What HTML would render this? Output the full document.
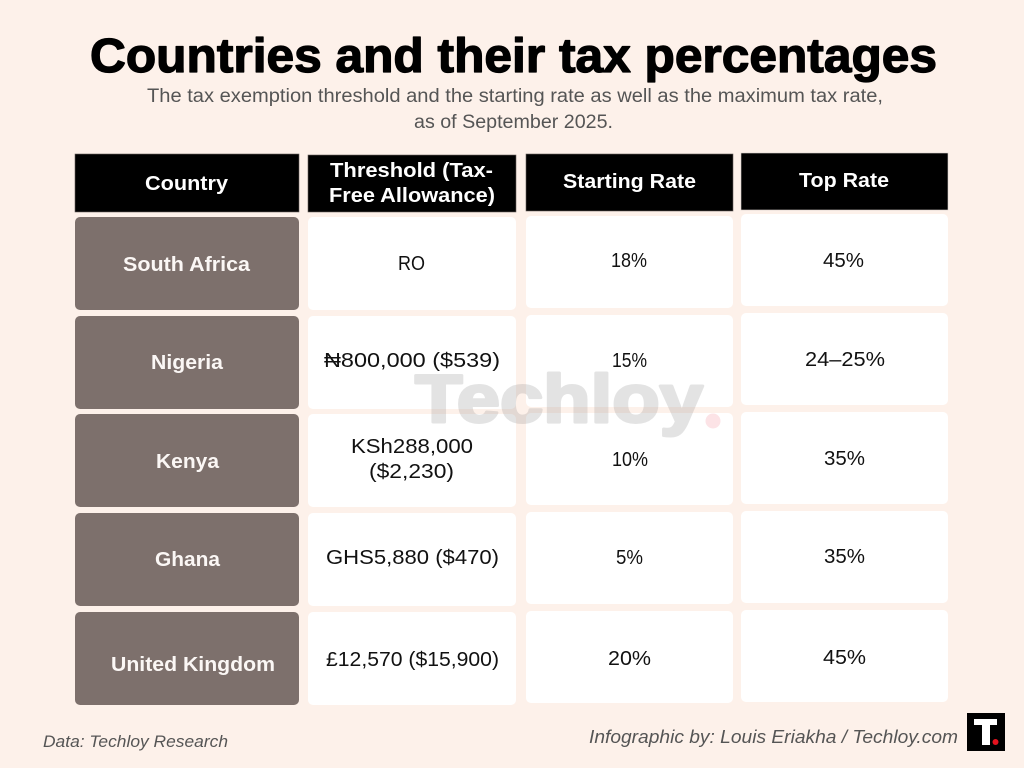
<!DOCTYPE html>
<html>
<head>
<meta charset="utf-8">
<style>
  html,body{margin:0;padding:0;background:#fdf1ea;}
  svg{display:block;}
  text{font-family:"Liberation Sans","DejaVu Sans",sans-serif;}
</style>
</head>
<body>
<svg width="1024" height="768" viewBox="0 0 1024 768" xmlns="http://www.w3.org/2000/svg">
  <rect x="0" y="0" width="1024" height="768" fill="#fdf1ea"/>

  <!-- Title -->
  <text x="90" y="72" font-size="48" font-weight="bold" fill="#000" stroke="#000" stroke-width="1.3" stroke-linejoin="round" textLength="847" lengthAdjust="spacingAndGlyphs">Countries and their tax percentages</text>
  <text x="147" y="102" font-size="19" fill="#555" textLength="736" lengthAdjust="spacingAndGlyphs">The tax exemption threshold and the starting rate as well as the maximum tax rate,</text>
  <text x="414" y="128" font-size="19" fill="#555" textLength="199" lengthAdjust="spacingAndGlyphs">as of September 2025.</text>

  <!-- Header cells -->
  <rect x="75" y="154" width="224" height="58" fill="#000" stroke="#6b625e" stroke-width="0.6"/>
  <rect x="308" y="155" width="208" height="57" fill="#000" stroke="#6b625e" stroke-width="0.6"/>
  <rect x="526" y="154" width="207" height="57" fill="#000" stroke="#6b625e" stroke-width="0.6"/>
  <rect x="741" y="153" width="207" height="57" fill="#000" stroke="#d8d0cc" stroke-width="0.6"/>

  <g font-size="20" font-weight="bold" fill="#fff">
    <text x="145" y="190" textLength="83" lengthAdjust="spacingAndGlyphs">Country</text>
    <text x="330" y="177" textLength="163" lengthAdjust="spacingAndGlyphs">Threshold (Tax-</text>
    <text x="329" y="202" textLength="166" lengthAdjust="spacingAndGlyphs">Free Allowance)</text>
    <text x="563" y="188" textLength="133" lengthAdjust="spacingAndGlyphs">Starting Rate</text>
    <text x="799" y="187" textLength="90" lengthAdjust="spacingAndGlyphs">Top Rate</text>
  </g>

  <!-- Country cells -->
  <g fill="#7d706c">
    <rect x="75" y="217" width="224" height="93" rx="5"/>
    <rect x="75" y="316" width="224" height="93" rx="5"/>
    <rect x="75" y="414" width="224" height="93" rx="5"/>
    <rect x="75" y="513" width="224" height="93" rx="5"/>
    <rect x="75" y="612" width="224" height="93" rx="5"/>
  </g>
  <!-- Threshold cells -->
  <g fill="#fff">
    <rect x="308" y="217" width="208" height="93" rx="5"/>
    <rect x="308" y="316" width="208" height="93" rx="5"/>
    <rect x="308" y="414" width="208" height="93" rx="5"/>
    <rect x="308" y="513" width="208" height="93" rx="5"/>
    <rect x="308" y="612" width="208" height="93" rx="5"/>
  </g>
  <!-- Starting rate cells -->
  <g fill="#fff">
    <rect x="526" y="216" width="207" height="92" rx="5"/>
    <rect x="526" y="315" width="207" height="92" rx="5"/>
    <rect x="526" y="413" width="207" height="92" rx="5"/>
    <rect x="526" y="512" width="207" height="92" rx="5"/>
    <rect x="526" y="611" width="207" height="92" rx="5"/>
  </g>
  <!-- Top rate cells -->
  <g fill="#fff">
    <rect x="741" y="214" width="207" height="92" rx="5"/>
    <rect x="741" y="313" width="207" height="92" rx="5"/>
    <rect x="741" y="412" width="207" height="92" rx="5"/>
    <rect x="741" y="511" width="207" height="92" rx="5"/>
    <rect x="741" y="610" width="207" height="92" rx="5"/>
  </g>

  <!-- Country names -->
  <g font-size="20" font-weight="bold" fill="#fbf7f5">
    <text x="123" y="271" textLength="127" lengthAdjust="spacingAndGlyphs">South Africa</text>
    <text x="151" y="369" textLength="72" lengthAdjust="spacingAndGlyphs">Nigeria</text>
    <text x="156" y="468" textLength="63" lengthAdjust="spacingAndGlyphs">Kenya</text>
    <text x="155" y="566" textLength="65" lengthAdjust="spacingAndGlyphs">Ghana</text>
    <text x="111" y="671" textLength="164" lengthAdjust="spacingAndGlyphs">United Kingdom</text>
  </g>

  <!-- Values -->
  <g font-size="20" fill="#111">
    <text x="398" y="270" textLength="27" lengthAdjust="spacingAndGlyphs">RO</text>
    <text x="611" y="267" textLength="36" lengthAdjust="spacingAndGlyphs">18%</text>
    <text x="823" y="267" textLength="41" lengthAdjust="spacingAndGlyphs">45%</text>

    <text x="324" y="367" textLength="176" lengthAdjust="spacingAndGlyphs">₦800,000 ($539)</text>
    <text x="612" y="367" textLength="35" lengthAdjust="spacingAndGlyphs">15%</text>
    <text x="805" y="366" textLength="80" lengthAdjust="spacingAndGlyphs">24–25%</text>

    <text x="351" y="453" textLength="122" lengthAdjust="spacingAndGlyphs">KSh288,000</text>
    <text x="369" y="478" textLength="85" lengthAdjust="spacingAndGlyphs">($2,230)</text>
    <text x="612" y="466" textLength="36" lengthAdjust="spacingAndGlyphs">10%</text>
    <text x="824" y="465" textLength="41" lengthAdjust="spacingAndGlyphs">35%</text>

    <text x="326" y="564" textLength="173" lengthAdjust="spacingAndGlyphs">GHS5,880 ($470)</text>
    <text x="616" y="564" textLength="27" lengthAdjust="spacingAndGlyphs">5%</text>
    <text x="824" y="563" textLength="41" lengthAdjust="spacingAndGlyphs">35%</text>

    <text x="326" y="666" textLength="173" lengthAdjust="spacingAndGlyphs">£12,570 ($15,900)</text>
    <text x="608" y="665" textLength="43" lengthAdjust="spacingAndGlyphs">20%</text>
    <text x="823" y="664" textLength="43" lengthAdjust="spacingAndGlyphs">45%</text>
  </g>

  <!-- Watermark -->
  <g opacity="0.2">
    <text x="415" y="422" font-size="68" font-weight="bold" fill="#7a7a7a" stroke="#7a7a7a" stroke-width="3" stroke-linejoin="round" textLength="288" lengthAdjust="spacingAndGlyphs">Techloy</text>
  </g>
  <circle cx="713" cy="421" r="7.5" fill="#e8283c" fill-opacity="0.13"/>

  <!-- Footer -->
  <text x="43" y="747" font-size="17" font-style="italic" fill="#555" textLength="185" lengthAdjust="spacingAndGlyphs">Data: Techloy Research</text>
  <text x="589" y="743" font-size="18" font-style="italic" fill="#555" textLength="369" lengthAdjust="spacingAndGlyphs">Infographic by: Louis Eriakha / Techloy.com</text>

  <!-- Logo -->
  <rect x="967" y="713" width="38" height="38" fill="#000"/>
  <rect x="974" y="719" width="23" height="6" fill="#fff"/>
  <rect x="982" y="719" width="8" height="26" fill="#fff"/>
  <circle cx="995.5" cy="742" r="3" fill="#e5121e"/>
</svg>
</body>
</html>
